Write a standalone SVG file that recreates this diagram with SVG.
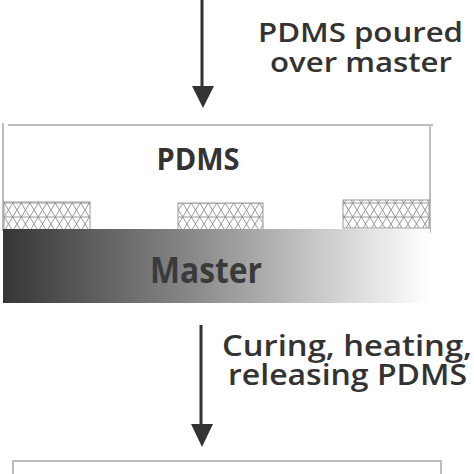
<svg xmlns="http://www.w3.org/2000/svg" width="474" height="474" viewBox="0 0 474 474">
<style>
.lbl{font-family:"Open Sans","Liberation Sans",Arial,sans-serif;font-weight:600;fill:#333;}
.big{font-family:"Open Sans","Liberation Sans",Arial,sans-serif;font-weight:700;fill:#333;text-anchor:middle;}
.frame{fill:none;stroke:#bdbdbd;stroke-width:2;}
.conn{stroke:#333;stroke-width:3;fill:none;}
.feat{fill:url(#mesh);stroke:#999;stroke-width:1;}
</style>
<defs>
<linearGradient id="mg" x1="0" y1="0" x2="1" y2="0">
<stop offset="0" stop-color="#363636"/>
<stop offset="0.45" stop-color="#8a8a8a"/>
<stop offset="0.8" stop-color="#d6d6d6"/>
<stop offset="1" stop-color="#ffffff"/>
</linearGradient>
<pattern id="mesh" width="17" height="14" patternUnits="userSpaceOnUse">
<rect width="17" height="14" fill="#fff"/>
<path d="M0,0 L8.5,14 L17,0 M0,14 L8.5,0 L17,14 M0,7 H17" stroke="#8c8c8c" stroke-width="0.9" fill="none"/>
</pattern>
</defs>

<g id="connectors">
<line class="conn" x1="202" y1="0" x2="202" y2="86"/>
<path d="M192,86 L214,86 L203,108 Z" fill="#333"/>
<line class="conn" x1="201" y1="325" x2="201" y2="425"/>
<path d="M191,424 L213,424 L202,447 Z" fill="#333"/>
</g>

<g id="label-pour">
<text class="lbl" x="258" y="42" font-size="27" textLength="205" lengthAdjust="spacingAndGlyphs">PDMS poured</text>
<text class="lbl" x="270" y="72" font-size="27" textLength="182" lengthAdjust="spacingAndGlyphs">over master</text>
</g>

<g id="pdms">
<path class="frame" d="M8,125 H433 M3,123 V231 M430,125 V233"/>
<text class="big" x="198" y="170" font-size="30" textLength="83" lengthAdjust="spacingAndGlyphs">PDMS</text>
</g>

<g id="features">
<rect class="feat" x="4" y="202" width="86" height="28"/>
<rect class="feat" x="178" y="203" width="85" height="27"/>
<rect class="feat" x="343" y="200" width="86" height="28"/>
</g>

<g id="master">
<rect x="3" y="229" width="427" height="74" fill="url(#mg)"/>
<text class="big" x="206" y="283" font-size="36" textLength="112" lengthAdjust="spacingAndGlyphs" style="fill:#3a3a3a">Master</text>
</g>

<g id="label-cure">
<text class="lbl" x="222" y="356" font-size="28" textLength="250" lengthAdjust="spacingAndGlyphs">Curing, heating,</text>
<text class="lbl" x="228" y="385" font-size="28" textLength="239" lengthAdjust="spacingAndGlyphs">releasing PDMS</text>
</g>

<g id="result">
<path class="frame" d="M13,474 V461 H441 V474"/>
</g>
</svg>
